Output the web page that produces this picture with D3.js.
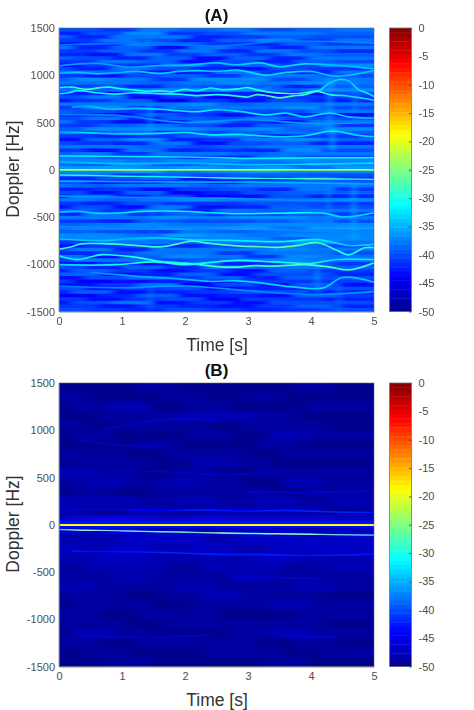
<!DOCTYPE html>
<html>
<head>
<meta charset="utf-8"/>
<title>Doppler spectrograms</title>
<script src="https://cdn.jsdelivr.net/npm/d3@7"></script>
<style>
	html,body{margin:0;padding:0;background:#fff;}
	svg{display:block;}
	text{font-family:"Liberation Sans",Arial,sans-serif;}
</style>
</head>
<body>
<svg id="fig" width="474" height="710"></svg>
<script>
//Tick labels
var timeTicks = [0,1,2,3,4,5];
var dopplerTicks = [1500,1000,500,0,-500,-1000,-1500];
var dbTicks = [0,-5,-10,-15,-20,-25,-30,-35,-40,-45,-50];

//Colormap stops (jet) in dB
var jetDb = [-50,-43.75,-31.25,-18.75,-6.25,0];
var jetColors = ['#00008f','#0000ff','#00ffff','#ffff00','#ff0000','#800000'];

//Background levels in dB, rows go from +1500 Hz down, columns from t=0 to t=5
var cellsA = [
[-40,-41,-38,-39,-38,-40,-39,-38],
[-42,-40,-37,-41,-40,-38,-38,-39],
[-39,-42,-38,-38,-42,-41,-39,-40],
[-41,-38,-40,-42,-39,-37,-41,-38],
[-43,-41,-37,-39,-41,-42,-39,-41],
[-38,-42,-39,-43,-38,-40,-42,-38],
[-41,-39,-41,-38,-42,-38,-40,-42],
[-42,-43,-38,-41,-39,-41,-38,-39],
[-39,-40,-42,-39,-43,-39,-42,-38],
[-41,-38,-39,-43,-40,-42,-39,-40],
[-43,-41,-41,-38,-41,-39,-41,-37],
[-40,-42,-38,-40,-42,-43,-40,-41],
[-38,-39,-43,-42,-38,-41,-42,-38],
[-41,-43,-40,-39,-41,-38,-38,-40],
[-39,-37,-38,-41,-37,-37,-40,-38],
[-38,-38,-39,-38,-37,-38,-37,-38],
[-41,-40,-42,-39,-40,-39,-42,-39],
[-38,-39,-38,-37,-37,-37,-39,-37],
[-42,-43,-41,-43,-42,-44,-43,-40],
[-40,-38,-43,-41,-44,-42,-41,-41],
[-43,-41,-39,-44,-41,-43,-40,-42],
[-38,-38,-38,-37,-39,-38,-38,-38],
[-41,-37,-40,-38,-38,-38,-37,-40],
[-39,-40,-41,-42,-41,-40,-40,-38],
[-42,-43,-39,-41,-43,-42,-42,-43],
[-40,-38,-42,-39,-40,-38,-40,-40],
[-38,-41,-43,-43,-38,-41,-43,-38],
[-41,-39,-38,-40,-42,-39,-38,-41],
[-39,-37,-37,-37,-38,-37,-39,-37],
[-38,-40,-38,-41,-40,-39,-38,-39],
[-41,-42,-41,-39,-38,-42,-41,-41],
[-43,-39,-37,-42,-41,-38,-37,-39],
[-40,-41,-42,-38,-43,-40,-39,-42],
[-38,-38,-39,-40,-39,-38,-38,-38],
[-41,-43,-38,-42,-41,-42,-37,-40],
[-39,-38,-41,-38,-38,-39,-38,-38],
[-38,-40,-39,-41,-42,-38,-40,-40],
[-37,-37,-38,-37,-37,-38,-37,-37],
[-38,-39,-37,-39,-38,-39,-39,-37],
[-36,-36,-37,-36,-37,-36,-38,-36],
[-37,-37,-36,-38,-37,-36,-37,-37],
[-39,-38,-41,-39,-40,-39,-39,-40],
[-42,-40,-39,-43,-41,-42,-38,-41],
[-40,-43,-42,-40,-43,-40,-39,-39],
[-38,-39,-38,-38,-39,-38,-38,-38],
[-42,-41,-43,-41,-40,-42,-38,-41],
[-40,-43,-39,-44,-42,-40,-39,-39],
[-43,-38,-42,-40,-44,-43,-40,-42],
[-38,-39,-38,-37,-38,-38,-38,-37],
[-41,-42,-40,-41,-41,-40,-40,-41],
[-43,-40,-43,-38,-43,-42,-39,-40],
[-39,-41,-38,-42,-38,-39,-38,-38],
[-42,-38,-41,-39,-41,-41,-39,-41],
[-38,-38,-38,-37,-38,-37,-37,-38],
[-41,-42,-39,-40,-40,-39,-38,-40],
[-39,-38,-37,-38,-38,-37,-37,-37],
[-38,-37,-37,-36,-37,-36,-38,-36],
[-39,-40,-41,-38,-39,-38,-38,-38],
[-37,-37,-38,-36,-37,-38,-37,-37],
[-38,-37,-37,-38,-37,-37,-39,-37],
[-41,-38,-38,-39,-38,-38,-36,-38],
[-43,-41,-40,-42,-40,-39,-38,-40],
[-40,-38,-42,-38,-38,-38,-37,-38],
[-42,-40,-38,-38,-41,-38,-38,-40],
[-38,-43,-39,-37,-38,-41,-37,-38],
[-41,-38,-38,-40,-39,-38,-37,-38],
[-43,-41,-43,-38,-42,-41,-39,-41],
[-40,-42,-39,-42,-38,-39,-38,-39],
[-42,-39,-41,-43,-41,-43,-39,-41],
[-39,-43,-42,-39,-43,-40,-40,-42],
[-43,-40,-39,-41,-39,-42,-39,-40],
[-41,-44,-43,-42,-43,-41,-41,-41],
[-43,-41,-38,-44,-40,-43,-39,-43],
[-40,-43,-41,-40,-44,-42,-42,-40],
[-42,-39,-43,-42,-41,-40,-40,-42],
[-44,-42,-39,-43,-42,-43,-39,-41],
[-41,-43,-41,-40,-44,-41,-41,-42],
[-43,-40,-38,-43,-41,-43,-40,-40],
[-41,-43,-41,-42,-43,-41,-39,-42],
[-40,-41,-42,-40,-41,-42,-41,-40]
];

var cellsB = [
[-50,-50,-49,-50,-50,-50,-49,-50],
[-49,-50,-50,-49,-50,-49,-50,-50],
[-50,-49,-48,-50,-49,-50,-50,-49],
[-50,-49,-49,-48,-48,-49,-50,-50],
[-49,-50,-49,-49,-50,-49,-49,-50],
[-50,-49,-50,-50,-49,-50,-48,-49],
[-50,-50,-49,-50,-50,-49,-50,-50],
[-49,-49,-50,-49,-49,-50,-49,-49],
[-50,-49,-49,-50,-48,-49,-50,-50],
[-48,-49,-50,-49,-50,-49,-49,-49],
[-49,-48,-49,-48,-49,-50,-48,-49],
[-50,-49,-50,-49,-49,-49,-50,-49],
[-48,-48,-49,-48,-49,-48,-49,-48],
[-48,-49,-48,-49,-48,-48,-48,-49],
[-47,-47,-47,-47,-46,-47,-47,-47],
[-47,-46,-48,-48,-47,-47,-48,-47],
[-48,-48,-47,-47,-48,-47,-47,-47],
[-47,-48,-47,-48,-47,-48,-47,-47],
[-48,-47,-48,-48,-48,-47,-48,-48],
[-49,-48,-48,-49,-48,-48,-49,-48],
[-49,-49,-48,-49,-49,-48,-49,-49],
[-48,-49,-49,-48,-49,-49,-48,-49],
[-49,-49,-50,-49,-48,-49,-49,-50],
[-50,-49,-49,-50,-49,-49,-48,-49],
[-49,-50,-49,-49,-50,-50,-49,-49],
[-49,-49,-50,-49,-49,-49,-49,-50],
[-50,-48,-49,-50,-50,-49,-48,-49],
[-49,-50,-49,-49,-49,-50,-49,-50],
[-50,-49,-50,-50,-49,-49,-50,-49],
[-50,-50,-49,-50,-50,-50,-49,-50]
];

//Ridges: [time s, Doppler Hz, level dB]
var ridgesA = [
	[[0,870,-31],[.2,875,-30],[.45,850,-27],[.65,870,-30],[.8,875,-30],[1,855,-31],[1.2,845,-31],[1.4,830,-30],[1.6,835,-29],[1.8,825,-31],[2,850,-31],[2.2,835,-32],[2.4,865,-31],[2.6,845,-32],[2.83,855,-30],[3,870,-30],[3.14,845,-29],[3.3,825,-29],[3.5,810,-28],[3.7,805,-29],[3.9,815,-30],[4.15,840,-30]],
	[[4.15,840,-32],[4.3,920,-34],[4.45,955,-33],[4.6,940,-34],[4.75,850,-33],[4.9,810,-32],[5,775,-31]],
	[[0,803,-32],[.15,815,-32],[.3,837,-31],[.6,815,-31],[.9,800,-31],[1.2,815,-31],[1.6,805,-30],[1.9,800,-31],[2.2,785,-29],[2.5,795,-30],[2.83,780,-29],[3,770,-29],[3.14,795,-28],[3.3,785,-28],[3.5,760,-27],[3.7,780,-28],[3.9,795,-28],[4.1,830,-29],[4.3,795,-30],[4.6,780,-33],[5,735,-32]],
	[[0,1020,-35],[.3,1030,-34],[.6,1015,-34],[.9,1025,-35],[1.2,1040,-34],[1.6,1020,-33],[1.9,1040,-34],[2.2,1050,-33],[2.5,1040,-34],[2.83,1055,-33],[3.3,1000,-33],[3.6,1030,-33],[4,1040,-34],[4.4,990,-34],[5,1050,-34]],
	[[0,1100,-36],[.6,1125,-36],[1.1,1085,-36],[1.5,1100,-35],[2.1,1110,-34],[2.5,1130,-34],[2.8,1110,-34],[3.2,1130,-33],[3.5,1090,-33],[3.9,1120,-33],[4.5,1100,-35],[5,1070,-34]],
	[[.2,660,-36],[.5,670,-35],[.8,640,-34],[1.2,650,-34],[1.6,640,-32],[1.9,625,-33],[2.2,615,-31],[2.5,635,-33],[2.83,620,-33],[3.3,580,-32],[3.6,600,-33],[3.9,560,-33],[4.3,600,-33],[4.6,560,-34],[5,545,-35]],
	[[0,585,-37],[1,570,-37],[2,500,-36],[3,530,-37],[4,490,-36],[5,500,-37]],
	[[0,395,-36],[.4,393,-33],[.9,380,-34],[1.6,385,-32],[2,395,-33],[2.4,370,-32],[2.83,375,-32],[3.4,350,-33],[3.9,360,-33],[4.35,410,-32],[4.7,370,-33],[5,350,-33]],
	[[0,147,-33],[1,140,-32],[2,135,-33],[3,120,-32],[4,125,-32],[5,125,-32]],
	[[0,80,-35],[1,65,-34],[2,70,-35],[3,55,-34],[4,60,-33],[5,70,-33]],
	[[0,-120,-35],[1,-125,-36],[2,-130,-36],[3,-130,-35],[4,-140,-35],[5,-150,-36]],
	[[0,-280,-36],[.8,-290,-37],[1.6,-295,-37],[2.6,-300,-36],[3.5,-320,-37],[5,-330,-37]],
	[[0,-450,-33],[.3,-440,-34],[.6,-460,-33],[1,-455,-33],[1.3,-440,-32],[2,-440,-32],[2.4,-455,-33],[2.83,-465,-31],[3.5,-460,-31],[4.2,-460,-32],[4.5,-500,-33],[5,-455,-33]],
	[[0,-600,-37],[1,-620,-37],[2,-610,-37],[3,-620,-36],[4,-650,-37],[5,-660,-37]],
	[[0,-730,-34],[.7,-750,-34],[1.1,-730,-35],[1.5,-720,-34],[2.3,-745,-33],[2.83,-750,-32],[3.5,-760,-31],[4.1,-740,-32],[4.6,-800,-34],[5,-790,-33]],
	[[0,-840,-29],[.2,-815,-29],[.35,-784,-30],[.8,-785,-29],[1.2,-800,-29],[1.6,-816,-29],[1.85,-790,-28],[2.1,-755,-28],[2.4,-780,-28],[2.83,-805,-27],[3.2,-815,-27],[3.5,-820,-26],[3.8,-800,-27],[4.1,-770,-28],[4.4,-850,-29],[4.6,-900,-30],[4.85,-825,-29],[5,-825,-29]],
	[[0,-910,-31],[.3,-950,-31],[.65,-900,-30],[.9,-905,-30],[1.2,-925,-29],[1.6,-970,-30],[1.9,-985,-29],[2.1,-995,-29],[2.5,-1025,-28],[2.83,-1030,-28],[3.1,-1015,-28],[3.4,-1020,-28],[3.9,-1005,-27],[4.3,-1030,-27],[4.6,-1060,-29],[5,-985,-29]],
	[[0,-1005,-33],[.9,-1005,-31],[1.5,-975,-30],[2,-1005,-30],[2.4,-980,-31],[2.83,-960,-30],[3.4,-975,-30],[4,-990,-31],[4.4,-950,-33],[5,-950,-32]],
	[[.5,-1085,-37],[1.3,-1130,-35],[1.9,-1155,-35],[2.4,-1180,-34],[2.83,-1175,-33],[3.2,-1197,-33],[3.7,-1240,-33],[4.2,-1250,-33],[4.5,-1140,-34],[5,-1190,-34]],
	[[0,-1230,-38],[1,-1250,-37],[2,-1230,-36],[3,-1280,-37],[4,-1320,-37],[5,-1290,-36]],
	[[0,1320,-38],[1.2,1340,-38],[2.5,1310,-38],[3.6,1360,-38],[5,1340,-37]]
];
var ridgesB = [
	[[0,154,-46],[.8,165,-45],[1.6,150,-44],[2.3,155,-42],[2.9,145,-43],[3.6,150,-42],[4.4,135,-42],[5,130,-43]],
	[[.2,70,-45],[1,65,-44],[1.5,60,-46]],
	[[.2,-280,-43],[1,-285,-43],[1.8,-295,-42],[2.5,-313,-42],[3.2,-315,-42],[3.9,-325,-43],[4.6,-320,-42],[5,-310,-43]],
	[[.8,560,-47],[1.5,565,-47],[2.6,530,-46],[3.6,570,-47]],
	[[3,350,-46],[3.8,340,-46],[5,360,-46]],
	[[2.8,-550,-46],[3.3,-555,-45],[4.1,-570,-46]],
	[[.4,-1180,-46],[1.4,-1190,-47],[2.4,-1170,-46]],
	[[3.6,-1180,-46],[4.4,-1190,-46]],
	[[.7,1010,-47],[1.8,1120,-46],[2.5,1100,-46]],
	[[.3,900,-47],[1,840,-47],[1.7,830,-47]]
];

//Carrier line and the slowly moving tone below it
var zeroLineA = [[0,0,-23],[5,0,-23]];
var zeroLineB = [[0,0,-19],[5,0,-19]];
var toneA = [[0,-55,-30],[.5,-60,-29],[1,-68,-30],[1.5,-72,-31],[2,-80,-30],[2.5,-85,-29],[3,-90,-29],[3.5,-92,-29],[4,-95,-28],[4.5,-98,-29],[5,-102,-28]];
var toneB = [[0,-50,-38],[.4,-58,-28],[.9,-62,-35],[1.3,-70,-32],[1.75,-75,-30],[2.2,-82,-35],[2.6,-88,-26],[3,-92,-31],[3.5,-96,-27],[4,-100,-29],[4.3,-104,-34],[5,-110,-35]];

//Bright vertical bursts: [time s, from Hz, to Hz, level dB]
var burstsA = [
	[1.42,1500,1300,-37],[1.45,720,380,-36],[1.48,-400,-700,-38],[1.45,-1250,-1500,-38],
	[4.3,1000,450,-35],[4.34,440,200,-34],[4.28,-150,-700,-37],[4.68,-140,-740,-35],
	[4.1,-1000,-1300,-36],[4.7,1000,600,-37],[4.45,-1200,-1500,-38]
];

var svg = d3.select('#fig');
var color = d3.scaleLinear().domain(jetDb).range(jetColors).clamp(true);

var defs = svg.append('defs');
function addBlur(id,dev) {
	defs.append('filter').attr('id',id).attr('x','-5%').attr('y','-5%').attr('width','110%').attr('height','110%')
		.append('feGaussianBlur').attr('stdDeviation',dev);
}
addBlur('smear','4 0.7');
addBlur('soft','0.65');
addBlur('wide','2.5 1');
addBlur('tiny','0.25');

//Draw one ridge as a smooth path, coloured along time with a gradient
var gradCount = 0;
function drawRidge(g, pts, x, y, width) {
	var id = 'ridge' + (gradCount++);
	var x0 = x(pts[0][0]), x1 = x(pts[pts.length-1][0]);
	var grad = defs.append('linearGradient').attr('id',id).attr('gradientUnits','userSpaceOnUse')
		.attr('x1',x0).attr('x2',x1).attr('y1',0).attr('y2',0);
	pts.forEach(function(p) {
		grad.append('stop').attr('offset',(x(p[0])-x0)/(x1-x0)).attr('stop-color',color(p[2]));
	});
	g.append('path')
		.attr('d',d3.line().curve(d3.curveCatmullRom).x(function(d){return x(d[0]);}).y(function(d){return y(d[1]);})(pts))
		.attr('fill','none').attr('stroke','url(#'+id+')').attr('stroke-width',width);
}

function drawPanel(opt) {
	var x = d3.scaleLinear().domain([0,5]).range([59,374]);
	var y = d3.scaleLinear().domain([1500,-1500]).range([opt.top,opt.top+283.5]);
	var g = svg.append('g');

	defs.append('clipPath').attr('id','clip'+opt.title[1])
		.append('rect').attr('x',59).attr('y',opt.top).attr('width',315).attr('height',283.5);

	var plot = g.append('g').attr('clip-path','url(#clip'+opt.title[1]+')');
	plot.append('rect').attr('x',59).attr('y',opt.top).attr('width',315).attr('height',283.5)
		.attr('fill',color(opt.base));

	//Background cells, rows staggered so the column seams don't line up
	var nRows = opt.cells.length, nCols = opt.cells[0].length;
	var df = 3000/nRows, dt = 5/nCols;
	var cellG = plot.append('g').attr('filter','url(#smear)');
	opt.cells.forEach(function(row,i) {
		var shift = -(i%3)*dt/3;
		cellG.selectAll(null).data(row).enter().append('rect')
			.attr('x',function(d,j){return x(j*dt+shift)-(j==0?30:0);})
			.attr('width',function(d,j){return x(dt)-x(0)+(j==0||j==nCols-1?50:0)+0.5;})
			.attr('y',y(1500-i*df)-(i==0?6:0))
			.attr('height',y(0)-y(df)+(i==0||i==nRows-1?6:0)+0.5)
			.attr('fill',function(d){return color(d);});
	});

	var wide = plot.append('g').attr('filter','url(#wide)');
	opt.bursts.forEach(function(b) {
		wide.append('rect')
			.attr('x',x(b[0]-.05)).attr('width',x(.1)-x(0))
			.attr('y',y(b[1])).attr('height',y(b[2])-y(b[1]))
			.attr('fill',color(b[3])).attr('opacity',.45);
	});
	var soft = plot.append('g').attr('filter','url(#soft)');
	opt.ridges.forEach(function(r) { drawRidge(soft,r,x,y,opt.ridgeWidth); });

	//Tone and carrier
	if (opt.glow) {
		plot.append('rect').attr('x',50).attr('width',335)
			.attr('y',y(45)).attr('height',y(-30)-y(45))
			.attr('fill',color(opt.glow)).attr('filter','url(#soft)');
	}
	var lines = plot.append('g').attr('filter','url(#tiny)');
	drawRidge(lines,opt.tone,x,y,1.4);
	if (opt.paleTone) {
		lines.append('path')
			.attr('d',d3.line().x(function(d){return x(d[0]);}).y(function(d){return y(d[1]);})(opt.tone))
			.attr('fill','none').attr('stroke',opt.paleTone).attr('stroke-width',.7).attr('opacity',.8);
	}
	if (opt.zeroEdge) {
		lines.append('line').attr('x1',x(0)).attr('x2',x(5)).attr('y1',y(0)).attr('y2',y(0))
			.attr('stroke',opt.zeroEdge).attr('stroke-width',2.6);
	}
	drawRidge(lines,opt.zero,x,y,1.8);

	//Axes
	var xAxis = d3.axisBottom(x).tickValues(timeTicks).tickSize(0).tickPadding(6).tickFormat(String);
	var yAxis = d3.axisLeft(y).tickValues(dopplerTicks).tickSize(0).tickPadding(4).tickFormat(String);
	var gx = g.append('g').attr('transform','translate(0,'+(opt.top+283.5)+')').call(xAxis);
	var gy = g.append('g').attr('transform','translate(59,0)').call(yAxis);
	[gx,gy].forEach(function(a) {
		a.selectAll('text').attr('fill','#4d4d4d').style('font-size','11px');
		a.select('.domain').attr('stroke','#5f6f80').attr('stroke-width',.8);
	});
	g.append('rect').attr('x',59).attr('y',opt.top).attr('width',315).attr('height',283.5)
		.attr('fill','none').attr('stroke','#5f6f80').attr('stroke-width',.6);

	//Labels
	g.append('text').attr('x',216.5).attr('y',opt.top-7).attr('text-anchor','middle')
		.style('font-size','17px').style('font-weight','bold').attr('fill','#111').text(opt.title);
	g.append('text').attr('x',217).attr('y',opt.top+323).attr('text-anchor','middle')
		.style('font-size','17.5px').attr('fill','#333').text('Time [s]');
	g.append('text').attr('transform','translate(19,'+(opt.top+141)+') rotate(-90)').attr('text-anchor','middle')
		.style('font-size','17.5px').attr('fill','#333').text('Doppler [Hz]');

	//Colorbar
	var c = d3.scaleLinear().domain([0,-50]).range([opt.top,opt.top+283.5]);
	var steps = d3.range(64);
	g.selectAll('.step').data(steps).enter().append('rect')
		.attr('x',389.5).attr('width',22)
		.attr('y',function(d){return c(-d*50/64);})
		.attr('height',c(-50/64)-c(0)+.4)
		.attr('fill',function(d){return color(-(d+.5)*50/64);});
	g.append('rect').attr('x',389.5).attr('y',opt.top).attr('width',22).attr('height',283.5)
		.attr('fill','none').attr('stroke','#6f7a80').attr('stroke-width',.8);
	var cAxis = d3.axisRight(c).tickValues(dbTicks).tickSize(-2.5).tickPadding(7).tickFormat(String);
	var gc = g.append('g').attr('transform','translate(411.5,0)').call(cAxis);
	gc.select('.domain').remove();
	gc.selectAll('line').attr('stroke','#444').attr('stroke-width',.8);
	gc.selectAll('text').attr('fill','#4d4d4d').style('font-size','11px');
}

drawPanel({title:'(A)',top:28,cells:cellsA,ridges:ridgesA,bursts:burstsA,base:-40,
	ridgeWidth:1.7,zero:zeroLineA,tone:toneA});
drawPanel({title:'(B)',top:383,cells:cellsB,ridges:ridgesB,bursts:[],base:-49,
	ridgeWidth:1.5,zero:zeroLineB,tone:toneB,glow:-43,paleTone:'#e8e8e8',zeroEdge:'#f4f4d8'});
</script>
</body>
</html>
